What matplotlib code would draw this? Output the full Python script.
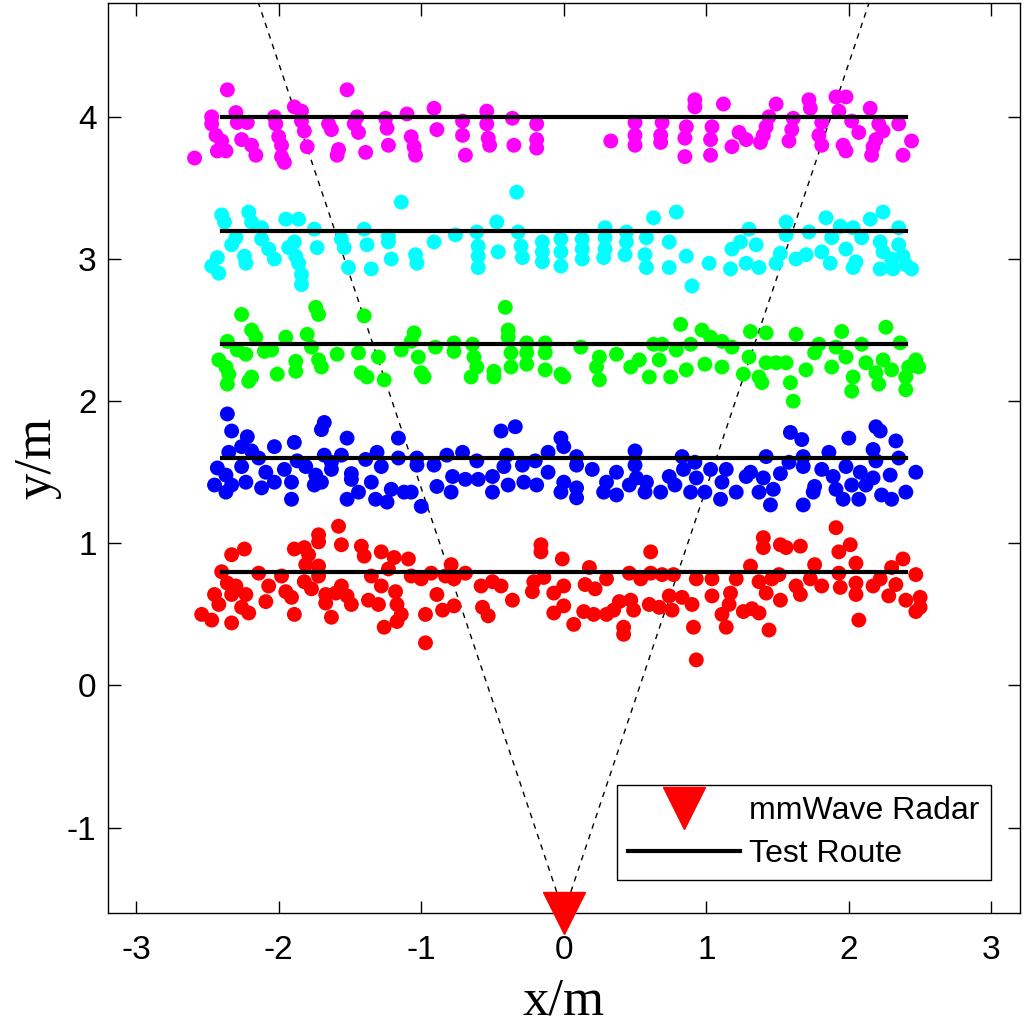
import numpy as np
import matplotlib
matplotlib.use("Agg")
import matplotlib.pyplot as plt

plt.rcParams['font.family'] = ['Liberation Sans', 'DejaVu Sans']
plt.rcParams['axes.unicode_minus'] = False

# measured points (x, y) in metres, one list per test route
route_y = [0.8, 1.6, 2.4, 3.2, 4.0]
route_x = [-2.4, 2.4]
radar_pos = (0.0, -1.6)
fov_half_deg = 18.5

pts_magenta = [
    (-2.59, 3.71), (-2.36, 4.19), (-2.47, 4.00), (-2.47, 3.95), (-2.44, 3.87), (-2.40, 3.83),
    (-2.43, 3.76), (-2.37, 3.76), (-2.30, 4.03), (-2.29, 3.96), (-2.22, 3.96), (-2.26, 3.84),
    (-2.19, 3.80), (-2.16, 3.73), (-2.03, 4.00), (-2.02, 3.95), (-2.00, 3.86), (-1.98, 3.80),
    (-1.98, 3.72), (-1.96, 3.68), (-1.89, 4.07), (-1.84, 4.04), (-1.84, 3.97), (-1.82, 3.90),
    (-1.80, 3.79), (-1.52, 4.19), (-1.65, 3.95), (-1.63, 3.91), (-1.58, 3.77), (-1.59, 3.73),
    (-1.45, 4.00), (-1.47, 3.95), (-1.44, 3.89), (-1.39, 3.75), (-1.25, 3.99), (-1.24, 3.92),
    (-1.23, 3.80), (-1.10, 4.02), (-1.07, 3.86), (-1.05, 3.79), (-1.04, 3.73), (-0.91, 4.06),
    (-0.89, 3.91), (-0.71, 3.97), (-0.71, 3.87), (-0.69, 3.73), (-0.54, 4.04), (-0.54, 3.95),
    (-0.53, 3.85), (-0.52, 3.80), (-0.36, 3.99), (-0.35, 3.80), (-0.19, 3.95), (-0.19, 3.84),
    (-0.19, 3.78), (0.33, 3.83), (0.50, 3.96), (0.50, 3.87), (0.50, 3.80), (0.69, 3.96),
    (0.68, 3.87), (0.68, 3.82), (0.92, 4.12), (0.92, 4.07), (0.86, 3.93), (0.85, 3.85),
    (0.85, 3.72), (1.12, 4.09), (1.04, 3.93), (1.03, 3.84), (1.03, 3.73), (1.23, 3.89),
    (1.28, 3.84), (1.18, 3.79), (1.49, 4.09), (1.44, 4.00), (1.42, 3.93), (1.40, 3.87),
    (1.38, 3.82), (1.61, 3.99), (1.60, 3.91), (1.58, 3.83), (1.72, 4.12), (1.73, 4.06),
    (1.81, 3.96), (1.79, 3.87), (1.81, 3.80), (1.91, 4.14), (1.98, 4.14), (1.93, 4.04),
    (2.02, 3.97), (2.07, 3.89), (1.96, 3.80), (1.98, 3.76), (2.15, 4.06), (2.21, 3.95),
    (2.24, 3.90), (2.19, 3.84), (2.17, 3.79), (2.16, 3.73), (2.35, 3.95), (2.44, 3.83),
    (2.38, 3.73),
]

pts_cyan = [
    (-2.40, 3.31), (-2.38, 3.26), (-2.30, 3.15), (-2.33, 3.10), (-2.43, 3.01), (-2.47, 2.95),
    (-2.42, 2.90), (-2.21, 3.33), (-2.19, 3.26), (-2.12, 3.22), (-2.12, 3.14), (-2.24, 3.02),
    (-2.23, 2.97), (-2.07, 3.07), (-2.03, 3.00), (-1.95, 3.28), (-1.86, 3.28), (-1.93, 3.08),
    (-1.89, 3.12), (-1.88, 3.02), (-1.86, 2.97), (-1.84, 2.89), (-1.84, 2.82), (-1.75, 3.21),
    (-1.73, 3.08), (-1.56, 3.14), (-1.54, 3.08), (-1.51, 2.94), (-1.40, 3.21), (-1.38, 3.10),
    (-1.35, 2.93), (-1.23, 3.16), (-1.23, 3.12), (-1.21, 3.00), (-1.14, 3.40), (-1.04, 3.03),
    (-1.03, 2.97), (-0.91, 3.12), (-0.76, 3.17), (-0.61, 3.19), (-0.60, 3.09), (-0.60, 3.02),
    (-0.60, 2.94), (-0.46, 3.05), (-0.47, 3.26), (-0.33, 3.47), (-0.32, 3.19), (-0.30, 3.09),
    (-0.29, 3.01), (-0.15, 3.12), (-0.15, 3.05), (-0.15, 2.98), (-0.02, 3.14), (-0.02, 3.05),
    (-0.02, 2.95), (0.13, 3.14), (0.13, 3.07), (0.13, 3.00), (0.29, 3.22), (0.29, 3.15),
    (0.29, 3.07), (0.28, 3.01), (0.44, 3.19), (0.44, 3.12), (0.43, 3.03), (0.63, 3.29),
    (0.58, 3.15), (0.57, 3.03), (0.58, 2.94), (0.79, 3.33), (0.74, 3.12), (0.74, 2.94),
    (0.86, 3.02), (0.90, 2.81), (1.02, 2.97), (1.18, 3.07), (1.17, 2.93), (1.24, 3.12),
    (1.30, 3.21), (1.35, 3.10), (1.28, 2.97), (1.37, 2.94), (1.49, 2.97), (1.52, 3.04),
    (1.56, 3.26), (1.56, 3.17), (1.63, 3.00), (1.70, 3.03), (1.72, 3.19), (1.81, 3.05),
    (1.84, 3.29), (1.88, 3.15), (1.87, 2.97), (1.94, 3.23), (1.98, 3.07), (2.03, 3.22),
    (2.05, 2.98), (2.03, 2.94), (2.09, 3.15), (2.15, 3.28), (2.24, 3.33), (2.22, 3.12),
    (2.22, 2.93), (2.24, 3.05), (2.30, 3.00), (2.35, 3.22), (2.35, 3.10), (2.38, 3.02),
    (2.40, 2.96), (2.44, 2.93), (2.31, 2.93),
]

pts_green = [
    (-2.26, 2.61), (-2.36, 2.42), (-2.42, 2.29), (-2.37, 2.24), (-2.35, 2.19), (-2.36, 2.12),
    (-2.19, 2.50), (-2.16, 2.45), (-2.29, 2.36), (-2.23, 2.33), (-2.19, 2.17), (-2.21, 2.14),
    (-2.10, 2.35), (-2.05, 2.36), (-2.01, 2.19), (-1.95, 2.45), (-1.88, 2.28), (-1.88, 2.21),
    (-1.74, 2.66), (-1.72, 2.61), (-1.80, 2.47), (-1.77, 2.38), (-1.72, 2.29), (-1.70, 2.24),
    (-1.59, 2.33), (-1.44, 2.34), (-1.40, 2.60), (-1.42, 2.20), (-1.38, 2.17), (-1.30, 2.31),
    (-1.26, 2.15), (-1.14, 2.36), (-1.05, 2.48), (-1.07, 2.42), (-1.02, 2.31), (-1.00, 2.20),
    (-0.98, 2.17), (-0.90, 2.38), (-0.77, 2.41), (-0.77, 2.35), (-0.64, 2.40), (-0.63, 2.31),
    (-0.61, 2.24), (-0.65, 2.17), (-0.49, 2.21), (-0.49, 2.17), (-0.41, 2.66), (-0.39, 2.50),
    (-0.39, 2.45), (-0.37, 2.34), (-0.37, 2.24), (-0.26, 2.41), (-0.26, 2.34), (-0.26, 2.26),
    (-0.13, 2.41), (-0.13, 2.34), (-0.13, 2.22), (-0.02, 2.19), (0.00, 2.17), (0.12, 2.38),
    (0.25, 2.31), (0.23, 2.24), (0.25, 2.15), (0.37, 2.33), (0.47, 2.24), (0.53, 2.29),
    (0.60, 2.17), (0.63, 2.40), (0.69, 2.40), (0.67, 2.29), (0.75, 2.17), (0.82, 2.54),
    (0.79, 2.36), (0.86, 2.22), (0.89, 2.40), (0.97, 2.50), (1.03, 2.45), (0.99, 2.26),
    (1.11, 2.42), (1.11, 2.24), (1.18, 2.38), (1.31, 2.49), (1.42, 2.48), (1.30, 2.31),
    (1.26, 2.19), (1.37, 2.17), (1.42, 2.27), (1.39, 2.13), (1.49, 2.27), (1.56, 2.27),
    (1.59, 2.13), (1.61, 2.00), (1.63, 2.47), (1.70, 2.22), (1.76, 2.34), (1.79, 2.40),
    (1.91, 2.38), (1.95, 2.49), (1.88, 2.24), (1.98, 2.31), (2.03, 2.17), (2.02, 2.07),
    (2.09, 2.40), (2.12, 2.27), (2.19, 2.20), (2.21, 2.12), (2.26, 2.52), (2.24, 2.29),
    (2.30, 2.22), (2.36, 2.41), (2.40, 2.08), (2.40, 2.17), (2.47, 2.29), (2.49, 2.24),
    (2.42, 2.24),
]

pts_blue = [
    (-2.36, 1.91), (-2.33, 1.79), (-2.35, 1.64), (-2.43, 1.53), (-2.45, 1.41), (-2.37, 1.36),
    (-2.33, 1.41), (-2.37, 1.48), (-2.26, 1.68), (-2.22, 1.75), (-2.26, 1.54), (-2.23, 1.43),
    (-2.19, 1.65), (-2.12, 1.39), (-2.14, 1.60), (-2.09, 1.50), (-2.03, 1.68), (-2.03, 1.43),
    (-1.96, 1.52), (-1.89, 1.71), (-1.87, 1.58), (-1.91, 1.43), (-1.91, 1.31), (-1.81, 1.54),
    (-1.75, 1.41), (-1.74, 1.48), (-1.68, 1.85), (-1.70, 1.80), (-1.68, 1.62), (-1.70, 1.43),
    (-1.63, 1.52), (-1.63, 1.57), (-1.56, 1.62), (-1.52, 1.74), (-1.49, 1.49), (-1.49, 1.45),
    (-1.52, 1.31), (-1.44, 1.36), (-1.39, 1.59), (-1.35, 1.43), (-1.31, 1.64), (-1.28, 1.54),
    (-1.32, 1.31), (-1.24, 1.29), (-1.21, 1.38), (-1.16, 1.74), (-1.16, 1.60), (-1.12, 1.36),
    (-1.07, 1.36), (-1.03, 1.60), (-1.03, 1.55), (-1.00, 1.26), (-0.91, 1.55), (-0.89, 1.40),
    (-0.82, 1.62), (-0.78, 1.47), (-0.79, 1.36), (-0.71, 1.64), (-0.69, 1.45), (-0.61, 1.58),
    (-0.60, 1.45), (-0.50, 1.47), (-0.50, 1.36), (-0.44, 1.79), (-0.34, 1.82), (-0.40, 1.62),
    (-0.42, 1.54), (-0.39, 1.41), (-0.29, 1.55), (-0.28, 1.43), (-0.20, 1.58), (-0.19, 1.41),
    (-0.11, 1.64), (-0.11, 1.50), (-0.02, 1.74), (-0.02, 1.36), (0.00, 1.68), (0.00, 1.43),
    (0.09, 1.61), (0.09, 1.55), (0.09, 1.39), (0.09, 1.32), (0.20, 1.52), (0.28, 1.36),
    (0.30, 1.43), (0.37, 1.50), (0.37, 1.34), (0.46, 1.41), (0.50, 1.65), (0.50, 1.55),
    (0.51, 1.46), (0.58, 1.43), (0.57, 1.36), (0.68, 1.36), (0.74, 1.47), (0.78, 1.41),
    (0.83, 1.61), (0.84, 1.52), (0.89, 1.36), (0.92, 1.57), (0.93, 1.46), (0.99, 1.36),
    (1.03, 1.52), (1.10, 1.31), (1.11, 1.43), (1.14, 1.52), (1.21, 1.36), (1.28, 1.47),
    (1.31, 1.50), (1.37, 1.36), (1.40, 1.46), (1.42, 1.61), (1.47, 1.38), (1.45, 1.27),
    (1.52, 1.49), (1.58, 1.57), (1.59, 1.78), (1.67, 1.73), (1.68, 1.61), (1.68, 1.54),
    (1.68, 1.27), (1.75, 1.36), (1.76, 1.40), (1.81, 1.52), (1.86, 1.64), (1.89, 1.47),
    (1.91, 1.38), (1.96, 1.31), (2.00, 1.74), (1.98, 1.54), (2.02, 1.41), (2.07, 1.31),
    (2.08, 1.50), (2.12, 1.41), (2.17, 1.66), (2.19, 1.82), (2.22, 1.79), (2.19, 1.58),
    (2.17, 1.46), (2.23, 1.34), (2.29, 1.48), (2.33, 1.72), (2.30, 1.31), (2.35, 1.60),
    (2.40, 1.36), (2.47, 1.50),
]

pts_red = [
    (-2.54, 0.50), (-2.47, 0.46), (-2.33, 0.44), (-2.40, 0.80), (-2.33, 0.92), (-2.24, 0.96),
    (-2.45, 0.64), (-2.42, 0.57), (-2.36, 0.72), (-2.30, 0.70), (-2.33, 0.64), (-2.23, 0.64),
    (-2.26, 0.55), (-2.21, 0.51), (-2.14, 0.79), (-2.09, 0.59), (-2.07, 0.70), (-1.98, 0.77),
    (-1.95, 0.66), (-1.91, 0.62), (-1.89, 0.50), (-1.89, 0.96), (-1.82, 0.97), (-1.79, 0.92),
    (-1.81, 0.85), (-1.82, 0.73), (-1.77, 0.68), (-1.72, 1.06), (-1.72, 1.01), (-1.72, 0.84),
    (-1.72, 0.77), (-1.67, 0.64), (-1.67, 0.58), (-1.63, 0.48), (-1.58, 1.12), (-1.56, 0.99),
    (-1.60, 0.65), (-1.56, 0.70), (-1.52, 0.63), (-1.49, 0.57), (-1.42, 0.98), (-1.40, 0.91),
    (-1.35, 0.77), (-1.37, 0.60), (-1.30, 0.57), (-1.28, 0.94), (-1.26, 0.41), (-1.23, 0.82),
    (-1.28, 0.70), (-1.19, 0.90), (-1.18, 0.66), (-1.17, 0.57), (-1.14, 0.50), (-1.17, 0.45),
    (-1.09, 0.89), (-1.07, 0.77), (-1.00, 0.75), (-0.97, 0.50), (-0.97, 0.30), (-0.93, 0.79),
    (-0.89, 0.64), (-0.85, 0.53), (-0.83, 0.77), (-0.79, 0.85), (-0.77, 0.75), (-0.77, 0.56),
    (-0.69, 0.79), (-0.57, 0.55), (-0.53, 0.49), (-0.58, 0.70), (-0.50, 0.73), (-0.44, 0.70),
    (-0.36, 0.60), (-0.21, 0.73), (-0.22, 0.66), (-0.16, 0.99), (-0.16, 0.94), (-0.14, 0.76),
    (-0.07, 0.65), (-0.07, 0.51), (-0.01, 0.89), (0.00, 0.70), (0.00, 0.56), (0.07, 0.43),
    (0.14, 0.52), (0.18, 0.83), (0.15, 0.71), (0.22, 0.68), (0.21, 0.50), (0.30, 0.75),
    (0.30, 0.50), (0.35, 0.53), (0.39, 0.59), (0.42, 0.41), (0.42, 0.36), (0.46, 0.79),
    (0.47, 0.60), (0.49, 0.53), (0.54, 0.75), (0.60, 0.57), (0.61, 0.94), (0.61, 0.79),
    (0.67, 0.55), (0.69, 0.78), (0.74, 0.63), (0.76, 0.53), (0.77, 0.78), (0.83, 0.62),
    (0.90, 0.57), (0.91, 0.41), (0.93, 0.18), (0.93, 0.75), (1.04, 0.75), (1.04, 0.63),
    (1.11, 0.50), (1.14, 0.41), (1.16, 0.57), (1.17, 0.65), (1.21, 0.75), (1.26, 0.52),
    (1.31, 0.84), (1.32, 0.54), (1.37, 0.51), (1.37, 0.73), (1.40, 1.04), (1.40, 0.97),
    (1.42, 0.65), (1.44, 0.39), (1.46, 0.75), (1.52, 0.99), (1.56, 0.97), (1.51, 0.78),
    (1.52, 0.60), (1.63, 0.70), (1.66, 0.98), (1.66, 0.64), (1.73, 0.75), (1.76, 0.85),
    (1.81, 0.70), (1.91, 1.11), (1.93, 0.94), (2.01, 0.99), (1.93, 0.79), (1.94, 0.69),
    (2.05, 0.86), (2.05, 0.72), (2.05, 0.64), (2.07, 0.46), (2.17, 0.70), (2.22, 0.75),
    (2.28, 0.63), (2.30, 0.83), (2.33, 0.71), (2.38, 0.89), (2.40, 0.60), (2.47, 0.78),
    (2.50, 0.62), (2.47, 0.52), (2.50, 0.55),
]

series = [
    (pts_red, '#ff0000'),
    (pts_blue, '#0000ff'),
    (pts_green, '#00ff00'),
    (pts_cyan, '#00ffff'),
    (pts_magenta, '#ff00ff'),
]

fig = plt.figure(figsize=(10.25, 10.31), dpi=100)
ax = fig.add_axes([0.105, 0.1145, 0.89, 0.8825])

for pts, col in series:
    arr = np.array(pts)
    ax.scatter(arr[:, 0], arr[:, 1], s=115, color=col, edgecolors='none', zorder=2)

for i, yv in enumerate(route_y):
    ax.plot(route_x, [yv, yv], color='black', lw=3, zorder=3,
            label='Test Route' if i == 0 else None)

# radar field of view (dashed)
ylim = (-1.6, 4.8)
span = ylim[1] - radar_pos[1]
dx = span * np.tan(np.radians(fov_half_deg))
for sgn in (-1, 1):
    ax.plot([radar_pos[0], radar_pos[0] + sgn * dx], [radar_pos[1], ylim[1]],
            color='black', lw=1, ls=(0, (4, 4)), zorder=1)

ax.plot([radar_pos[0]], [radar_pos[1]], marker='v', color='#ff0000', ms=30,
        ls='none', clip_on=False, zorder=5, label='mmWave Radar')

ax.set_xlim(-3.2, 3.2)
ax.set_ylim(*ylim)
ax.set_xticks([-3, -2, -1, 0, 1, 2, 3])
ax.set_yticks([-1, 0, 1, 2, 3, 4])
ax.tick_params(direction='in', length=9, width=1, labelsize=24,
               top=True, right=True)
ax.tick_params(axis='x', pad=16)
ax.tick_params(axis='y', pad=8)
for sp in ax.spines.values():
    sp.set_linewidth(1)

ax.set_xlabel('x/m', fontsize=38, family='Liberation Serif', labelpad=8)
ax.set_ylabel('y/m', fontsize=38, family='Liberation Serif', labelpad=4)

h, l = ax.get_legend_handles_labels()
order = [l.index('mmWave Radar'), l.index('Test Route')]
leg = ax.legend([h[i] for i in order], [l[i] for i in order],
                loc='lower right', bbox_to_anchor=(0.968, 0.036),
                borderaxespad=0, fontsize=23, fancybox=False, framealpha=1,
                edgecolor='black', handlelength=3.5, handletextpad=0.3,
                borderpad=0.35, labelspacing=0.4)
leg.get_frame().set_linewidth(1)

fig.savefig('out.png', dpi=100)
